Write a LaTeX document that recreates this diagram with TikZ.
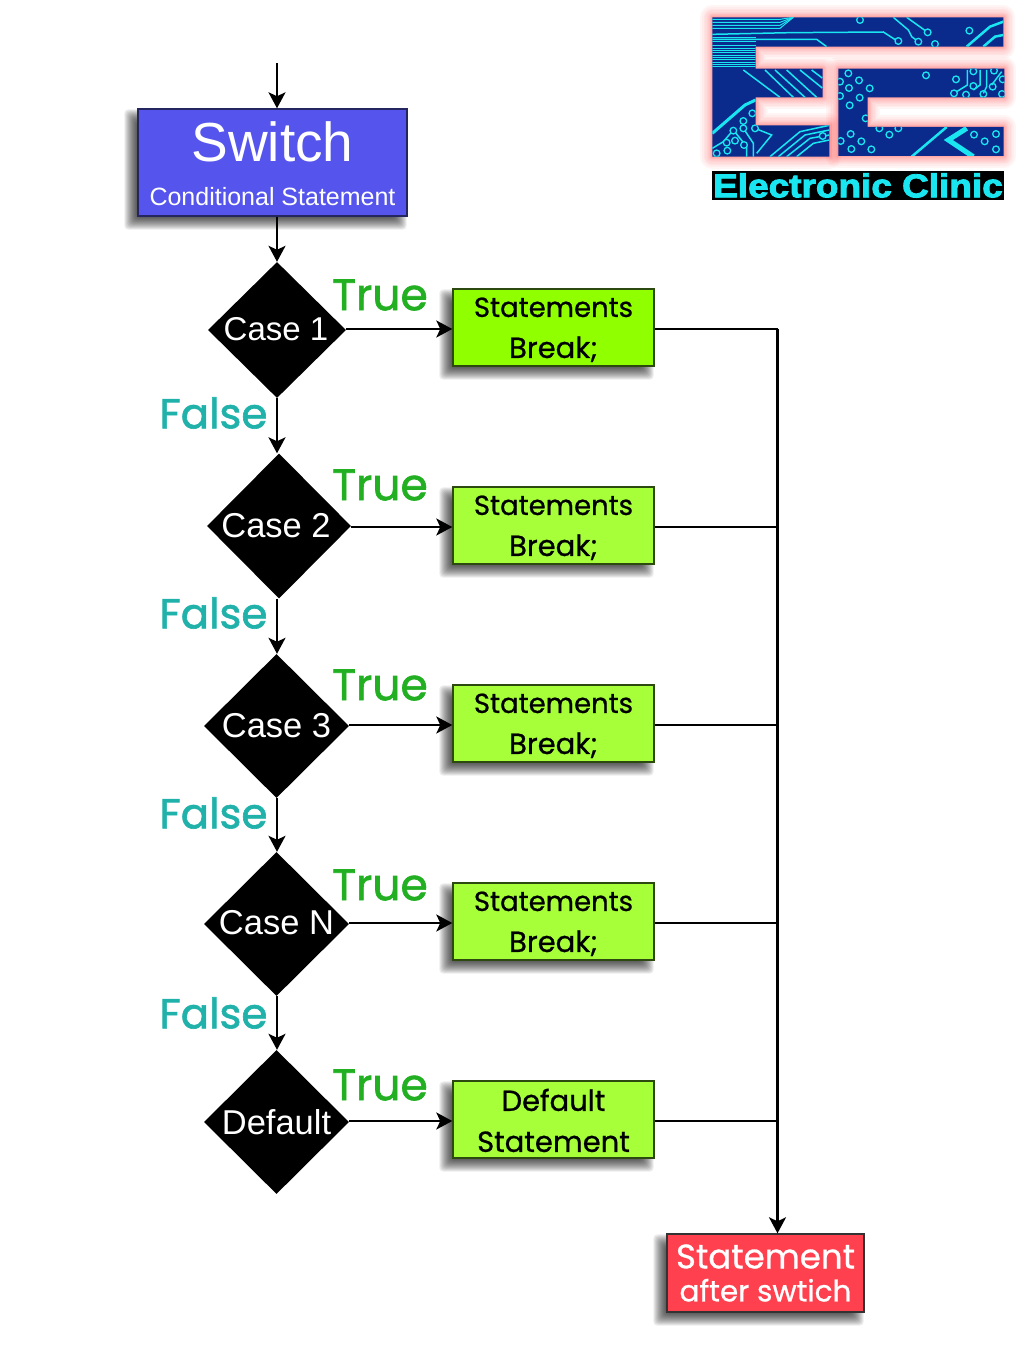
\documentclass[tikz,border=0pt]{standalone}
\usepackage{fontspec}
\setmainfont{Liberation Sans}
\newfontfamily\handfont[FakeBold=0.8]{Poppins}
\newfontfamily\labelfont[FakeBold=1.5]{Poppins}
\newfontfamily\logofont[FakeBold=2.5]{Liberation Sans Bold}
\usetikzlibrary{shapes.geometric,arrows.meta,calc}
\pgfdeclarelayer{background}
\pgfsetlayers{background,main}
\definecolor{swfill}{HTML}{5555EE}
\definecolor{swedge}{HTML}{25255F}
\definecolor{limeA}{HTML}{90FF00}
\definecolor{limeB}{HTML}{A6FF38}
\definecolor{limeedge}{HTML}{2C4A10}
\definecolor{redfill}{HTML}{FF414F}
\definecolor{trueg}{HTML}{22B022}
\definecolor{falset}{HTML}{20B2AA}
\definecolor{pcb}{HTML}{0A2A8C}
\definecolor{trace}{HTML}{19E6F0}
\definecolor{glow}{HTML}{FF2A2A}
\newcommand{\fs}[1]{\fontsize{#1}{#1}\selectfont}
\newcommand{\fl}[2]{\fontsize{#1}{#2}\selectfont}
\newcommand{\softshadow}[1]{%
  \begin{pgfonlayer}{background}
  \foreach \k in {-6,-5,...,6}{
    \fill[black,opacity=.07,rounded corners=4pt]
      ($(#1.south west)+(-7-\k,7+\k)$) rectangle ($(#1.north east)+(-7+\k,7-\k)$);
  }
  \end{pgfonlayer}}
\newcommand{\Eshape}{(67,52) -- (940,52) -- (940,140) -- (197,140) -- (197,206) -- (398,206) -- (398,292) -- (197,292) -- (197,376) -- (418,376) -- (418,470) -- (67,470) -- cycle}
\newcommand{\Cshape}{(445,206) -- (943,206) -- (943,292) -- (533,292) -- (533,381) -- (941,381) -- (941,468) -- (445,468) -- cycle}
\tikzset{
  boxbase/.style={draw,line width=1.4pt,rectangle,inner sep=0pt,align=center},
  switchbox/.style={boxbase,draw=swedge,fill=swfill,text=white,minimum width=269pt,minimum height=107pt,font=\fl{25}{44}},
  stmtbox/.style={boxbase,draw=limeedge,fill=limeB,text=black,minimum width=201pt,minimum height=77pt,font=\handfont\fl{28}{41}},
  endbox/.style={boxbase,draw=black!80,fill=redfill,text=white,minimum width=197pt,minimum height=78pt,font=\handfont\fl{30}{33}},
  casenode/.style={diamond,aspect=1,fill=black,text=white,inner sep=0pt,font=\fs{34.5}},
  truelabel/.style={text=trueg,font=\labelfont\fs{44},inner sep=0pt},
  falselabel/.style={text=falset,font=\labelfont\fs{42},inner sep=0pt},
  flow/.style={line width=2.3pt,draw=black,-{Stealth[length=16pt,width=17pt,inset=4pt]}},
  bus/.style={line width=2.3pt,draw=black},
  tr/.style={draw=trace,line width=1.5pt},
  via/.style={draw=trace,line width=1.3pt,fill=pcb},
}
\begin{document}
\begin{tikzpicture}[x=1pt,y=-1pt]
\useasboundingbox (0,0) rectangle (1024,1354);
\begin{pgfonlayer}{background}
\fill[white] (0,0) rectangle (1024,1354);
\end{pgfonlayer}

% Logo
\begin{scope}[shift={(690pt,0pt)},x=.33333pt,y=-.33333pt]
  \foreach \w in {72,60,50,42,34,28,22,17,13,9,6,3}{
    \draw[glow,opacity=.045,line width=\w*.33333pt,line join=round] \Eshape;
    \draw[glow,opacity=.045,line width=\w*.33333pt,line join=round] \Cshape;
  }
  \fill[pcb] \Eshape;
  \fill[pcb] \Cshape;
  \begin{scope}
    \clip \Eshape;
    \foreach \y in {58,67,76,85}{\draw[tr,line width=1pt] (67,\y) -- (270,\y) -- (310,52);}
    \foreach \y in {145,152,159,166,173,180,187,194,201}{\draw[tr,line width=1pt] (67,\y) -- (197,\y);}
    \foreach \y in {112,125,138}{\draw[tr,line width=1pt] (67,\y) -- (197,\y);}
    \draw[tr] (67,103) -- (300,98) -- (580,96) -- (625,125);
    \draw[tr] (67,118) -- (380,118) -- (410,140);
    \draw[tr] (610,52) -- (655,90) -- (665,110) -- (685,125);
    \draw[tr] (650,52) -- (713,97);
    \draw[tr,line width=2.5pt] (830,140) -- (900,80) -- (940,65);
    \draw[tr,line width=2.5pt] (880,140) -- (915,110) -- (940,105);
    \draw[tr] (160,210) -- (270,292);
    \draw[tr] (225,210) -- (310,292);
    \draw[tr] (255,210) -- (345,292);
    \draw[tr] (290,210) -- (380,292);
    \draw[tr] (330,210) -- (398,265);
    \draw[tr] (365,210) -- (398,235);
    \draw[tr,line width=3pt] (67,400) -- (165,315) -- (197,300);
    \draw[tr] (67,445) -- (100,425) -- (130,390);
    \draw[tr] (130,390) -- (170,440) -- (170,470);
    \draw[tr] (160,385) -- (190,430) -- (190,470);
    \draw[tr] (195,385) -- (245,405) -- (200,460);
    \draw[tr] (240,470) -- (330,395) -- (418,376);
    \draw[tr] (265,470) -- (345,405) -- (418,390);
    \draw[tr] (290,470) -- (360,415) -- (418,405);
    \draw[tr] (320,470) -- (370,430) -- (418,420);
    \foreach \p in {(510,60),(625,123),(685,125),(735,132),(713,97),(838,92),(160,363),(187,340),(130,392),(160,385),(195,385),(110,428),(135,422),(162,435),(80,460),(112,452),(398,408)}{
      \draw[via] \p circle (10);
    }
  \end{scope}
  \begin{scope}
    \clip \Cshape;
    \foreach \p in {(475,220),(507,241),(477,264),(539,265),(450,245),(509,293),(450,288),(479,316),(527,355),(482,402),(514,424),(452,423),(484,447),(544,448),(598,404),(708,226),(798,238),(850,214),(850,258),(908,260),(792,280),(828,284),(880,282),(936,282),(938,238),(912,212),(852,404),(918,402),(884,424),(918,448),(568,385),(625,385)}{
      \draw[via] \p circle (10);
    }
    \draw[tr] (832,210) -- (832,255) -- (800,275);
    \draw[tr] (870,210) -- (870,255) -- (850,270);
    \draw[tr] (890,210) -- (890,260) -- (880,280);
    \draw[tr] (935,215) -- (905,255);
    \draw[tr,line width=2.5pt] (665,470) -- (770,381);
    \draw[tr,line width=5pt,line join=miter] (830,385) -- (775,420) -- (850,470);
  \end{scope}
\end{scope}
\node[fill=black,minimum width=292pt,minimum height=29pt,inner sep=0pt,anchor=center,text=trace,font=\logofont\fs{33}] (logo) at (858,185.5) {\scalebox{1.12}[1]{Electronic Clinic}};

% Boxes
\coordinate (start) at (277,63);
\node[switchbox] (sw) at (272.5,162.5) {\fs{55}\rule{0pt}{42pt}Switch\\\fs{25}Conditional Statement};
\node[casenode,font=\fs{33},minimum width=138pt,minimum height=136pt] (d1) at (277,330) {\hspace{-2pt}\raisebox{2pt}{Case 1}};
\node[casenode,minimum width=144pt,minimum height=145pt] (d2) at (279,526) {\hspace{-6pt}\raisebox{-2pt}{Case 2}};
\node[casenode,minimum width=145pt,minimum height=144pt] (d3) at (276.5,726) {\raisebox{1pt}{Case 3}};
\node[casenode,minimum width=145pt,minimum height=144pt] (d4) at (276.5,924) {\raisebox{3pt}{Case N}};
\node[casenode,minimum width=145pt,minimum height=144pt] (d5) at (276.5,1122) {\raisebox{1pt}{Default}};

\node[stmtbox,fill=limeA] (s1) at (553.5,327.5) {\fs{27.5}\rule{0pt}{24pt}Statements\\\fs{29}Break;};
\node[stmtbox] (s2) at (553.5,525.5) {\fs{27.5}\rule{0pt}{24pt}Statements\\\fs{29}Break;};
\node[stmtbox] (s3) at (553.5,723.5) {\fs{27.5}\rule{0pt}{24pt}Statements\\\fs{29}Break;};
\node[stmtbox] (s4) at (553.5,921.5) {\fs{27.5}\rule{0pt}{24pt}Statements\\\fs{29}Break;};
\node[stmtbox] (s5) at (553.5,1119.5) {\fs{29}\rule{0pt}{24pt}Default\\\fs{29}Statement};
\node[endbox] (e) at (765.5,1273) {\fs{34}Statement\\\fs{29.5}after swtich};
\coordinate (b1) at (777.5,329);
\foreach \n in {sw,s1,s2,s3,s4,s5,e}{\softshadow{\n}}

% Labels
\foreach \n/\y in {t1/295,t2/485,t3/685,t4/885,t5/1085}{
  \node[truelabel] (\n) at (380,\y) {True};
}
\foreach \n/\y in {f1/413,f2/613,f3/813,f4/1013}{
  \node[falselabel] (\n) at (213.5,\y) {False};
}

% Connectors
\draw[flow] (start) -- (start |- sw.north);
\draw[flow] (start |- sw.south) -- (d1.north);
\draw[flow] (d1.south) -- (d1.south |- d2.north);
\draw[flow] (d1.south |- d2.south) -- (d1.south |- d3.north);
\draw[flow] (d1.south |- d3.south) -- (d1.south |- d4.north);
\draw[flow] (d1.south |- d4.south) -- (d1.south |- d5.north);
\foreach \i in {1,...,5}{
  \draw[flow] (d\i.east |- 0,{329+198*(\i-1)}) -- (s1.west |- 0,{329+198*(\i-1)});
}
\draw[bus] (s1.east |- b1) -- (b1);
\foreach \i in {2,...,5}{
  \draw[bus] (s\i.east |- 0,{329+198*(\i-1)}) -- (b1 |- 0,{329+198*(\i-1)});
}
\draw[flow] (b1) -- (b1 |- e.north);
\end{tikzpicture}
\end{document}
